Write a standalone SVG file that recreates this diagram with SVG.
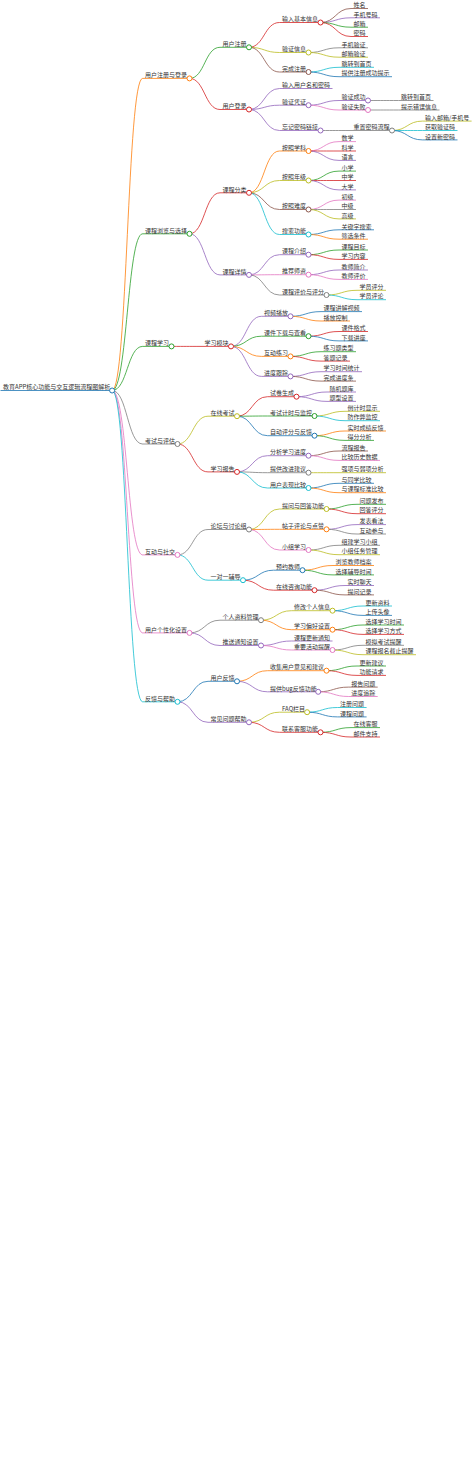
<svg xmlns="http://www.w3.org/2000/svg" width="474" height="1463" viewBox="0 0 474 1463">
<style>
.lk path{fill:none;stroke-width:1;stroke-opacity:.8}
.n path{fill:none;stroke-width:1;stroke-opacity:.8}
.n circle{fill:#fff;stroke-width:1}
.n text{font-family:"Noto Sans CJK SC","Noto Sans",sans-serif;font-size:6px;fill:#333}
.b{stroke:#1f77b4}.o{stroke:#ff7f0e}.g{stroke:#2ca02c}.r{stroke:#d62728}.p{stroke:#9467bd}
.br{stroke:#8c564b}.pk{stroke:#e377c2}.gy{stroke:#7f7f7f}.ol{stroke:#bcbd22}.cy{stroke:#17becf}
</style>
<rect width="474" height="1463" fill="#fff"/>
<g id="connectors" class="lk">
<path class="o" d="M112.1 390.5C127.35 390.5 127.35 78.4 142.6 78.4"/>
<path class="g" d="M112.1 390.5C127.35 390.5 127.35 233.8 142.6 233.8"/>
<path class="g" d="M112.1 390.5C127.35 390.5 127.35 346.4 142.6 346.4"/>
<path class="gy" d="M112.1 390.5C127.35 390.5 127.35 444 142.6 444"/>
<path class="pk" d="M112.1 390.5C127.35 390.5 127.35 554.9 142.6 554.9"/>
<path class="pk" d="M112.1 390.5C127.35 390.5 127.35 632.9 142.6 632.9"/>
<path class="cy" d="M112.1 390.5C127.35 390.5 127.35 701.8 142.6 701.8"/>
<path class="g" d="M189.5 78.4C204.75 78.4 204.75 47.3 220 47.3"/>
<path class="r" d="M189.5 78.4C204.75 78.4 204.75 109.5 220 109.5"/>
<path class="r" d="M189.5 233.8C204.75 233.8 204.75 192.8 220 192.8"/>
<path class="p" d="M189.5 233.8C204.75 233.8 204.75 274.9 220 274.9"/>
<path class="r" d="M171.5 346.4C186.75 346.4 186.75 346.4 202 346.4"/>
<path class="ol" d="M177.5 444C192.75 444 192.75 416.2 208 416.2"/>
<path class="r" d="M177.5 444C192.75 444 192.75 471.9 208 471.9"/>
<path class="gy" d="M177.5 554.9C192.75 554.9 192.75 529.5 208 529.5"/>
<path class="cy" d="M177.5 554.9C192.75 554.9 192.75 580.2 208 580.2"/>
<path class="gy" d="M189.5 632.9C204.75 632.9 204.75 620.2 220 620.2"/>
<path class="p" d="M189.5 632.9C204.75 632.9 204.75 645.5 220 645.5"/>
<path class="b" d="M177.5 701.8C192.75 701.8 192.75 681.3 208 681.3"/>
<path class="p" d="M177.5 701.8C192.75 701.8 192.75 722.3 208 722.3"/>
<path class="r" d="M249 47.3C264.25 47.3 264.25 22.5 279.5 22.5"/>
<path class="ol" d="M249 47.3C264.25 47.3 264.25 52.5 279.5 52.5"/>
<path class="br" d="M249 47.3C264.25 47.3 264.25 72 279.5 72"/>
<path class="p" d="M249 109.5C264.25 109.5 264.25 88.5 279.5 88.5"/>
<path class="p" d="M249 109.5C264.25 109.5 264.25 105.2 279.5 105.2"/>
<path class="p" d="M249 109.5C264.25 109.5 264.25 130.5 279.5 130.5"/>
<path class="o" d="M249 192.8C264.25 192.8 264.25 151 279.5 151"/>
<path class="ol" d="M249 192.8C264.25 192.8 264.25 180.5 279.5 180.5"/>
<path class="br" d="M249 192.8C264.25 192.8 264.25 209.5 279.5 209.5"/>
<path class="cy" d="M249 192.8C264.25 192.8 264.25 234.5 279.5 234.5"/>
<path class="p" d="M249 274.9C264.25 274.9 264.25 254.7 279.5 254.7"/>
<path class="pk" d="M249 274.9C264.25 274.9 264.25 274.7 279.5 274.7"/>
<path class="gy" d="M249 274.9C264.25 274.9 264.25 295 279.5 295"/>
<path class="p" d="M231 346.4C246.25 346.4 246.25 316.3 261.5 316.3"/>
<path class="g" d="M231 346.4C246.25 346.4 246.25 336.2 261.5 336.2"/>
<path class="o" d="M231 346.4C246.25 346.4 246.25 356.4 261.5 356.4"/>
<path class="p" d="M231 346.4C246.25 346.4 246.25 376.4 261.5 376.4"/>
<path class="r" d="M237 416.2C252.25 416.2 252.25 396.7 267.5 396.7"/>
<path class="g" d="M237 416.2C252.25 416.2 252.25 416 267.5 416"/>
<path class="b" d="M237 416.2C252.25 416.2 252.25 435.7 267.5 435.7"/>
<path class="p" d="M237 471.9C252.25 471.9 252.25 455.7 267.5 455.7"/>
<path class="gy" d="M237 471.9C252.25 471.9 252.25 472.7 267.5 472.7"/>
<path class="cy" d="M237 471.9C252.25 471.9 252.25 488 267.5 488"/>
<path class="ol" d="M249 529.5C264.25 529.5 264.25 509 279.5 509"/>
<path class="o" d="M249 529.5C264.25 529.5 264.25 529.3 279.5 529.3"/>
<path class="pk" d="M249 529.5C264.25 529.5 264.25 550 279.5 550"/>
<path class="b" d="M243 580.2C258.25 580.2 258.25 570.2 273.5 570.2"/>
<path class="r" d="M243 580.2C258.25 580.2 258.25 590.2 273.5 590.2"/>
<path class="ol" d="M261 620.2C276.25 620.2 276.25 610.7 291.5 610.7"/>
<path class="o" d="M261 620.2C276.25 620.2 276.25 629.7 291.5 629.7"/>
<path class="p" d="M261 645.5C276.25 645.5 276.25 641 291.5 641"/>
<path class="pk" d="M261 645.5C276.25 645.5 276.25 650 291.5 650"/>
<path class="o" d="M237 681.3C252.25 681.3 252.25 670.7 267.5 670.7"/>
<path class="p" d="M237 681.3C252.25 681.3 252.25 691.8 267.5 691.8"/>
<path class="ol" d="M249 722.3C264.25 722.3 264.25 712.2 279.5 712.2"/>
<path class="r" d="M249 722.3C264.25 722.3 264.25 732.3 279.5 732.3"/>
<path class="br" d="M320.5 22.5C335.75 22.5 335.75 8.5 351 8.5"/>
<path class="p" d="M320.5 22.5C335.75 22.5 335.75 17.8 351 17.8"/>
<path class="g" d="M320.5 22.5C335.75 22.5 335.75 27.2 351 27.2"/>
<path class="r" d="M320.5 22.5C335.75 22.5 335.75 36.5 351 36.5"/>
<path class="gy" d="M308.5 52.5C323.75 52.5 323.75 47.8 339 47.8"/>
<path class="ol" d="M308.5 52.5C323.75 52.5 323.75 57.2 339 57.2"/>
<path class="cy" d="M308.5 72C323.75 72 323.75 67.3 339 67.3"/>
<path class="b" d="M308.5 72C323.75 72 323.75 76.7 339 76.7"/>
<path class="p" d="M308.5 105.2C323.75 105.2 323.75 100.5 339 100.5"/>
<path class="pk" d="M308.5 105.2C323.75 105.2 323.75 110 339 110"/>
<path class="gy" d="M320.5 130.5C335.75 130.5 335.75 130.5 351 130.5"/>
<path class="pk" d="M308.5 151C323.75 151 323.75 141.6 339 141.6"/>
<path class="r" d="M308.5 151C323.75 151 323.75 151 339 151"/>
<path class="p" d="M308.5 151C323.75 151 323.75 160.4 339 160.4"/>
<path class="g" d="M308.5 180.5C323.75 180.5 323.75 171.1 339 171.1"/>
<path class="r" d="M308.5 180.5C323.75 180.5 323.75 180.5 339 180.5"/>
<path class="p" d="M308.5 180.5C323.75 180.5 323.75 189.9 339 189.9"/>
<path class="pk" d="M308.5 209.5C323.75 209.5 323.75 200.1 339 200.1"/>
<path class="gy" d="M308.5 209.5C323.75 209.5 323.75 209.5 339 209.5"/>
<path class="ol" d="M308.5 209.5C323.75 209.5 323.75 218.9 339 218.9"/>
<path class="b" d="M308.5 234.5C323.75 234.5 323.75 229.8 339 229.8"/>
<path class="o" d="M308.5 234.5C323.75 234.5 323.75 239.2 339 239.2"/>
<path class="g" d="M308.5 254.7C323.75 254.7 323.75 250 339 250"/>
<path class="r" d="M308.5 254.7C323.75 254.7 323.75 259.4 339 259.4"/>
<path class="p" d="M308.5 274.7C323.75 274.7 323.75 270 339 270"/>
<path class="pk" d="M308.5 274.7C323.75 274.7 323.75 279.4 339 279.4"/>
<path class="ol" d="M326.5 295C341.75 295 341.75 290.3 357 290.3"/>
<path class="cy" d="M326.5 295C341.75 295 341.75 299.7 357 299.7"/>
<path class="b" d="M290.5 316.3C305.75 316.3 305.75 311.6 321 311.6"/>
<path class="o" d="M290.5 316.3C305.75 316.3 305.75 321 321 321"/>
<path class="r" d="M308.5 336.2C323.75 336.2 323.75 331.5 339 331.5"/>
<path class="b" d="M308.5 336.2C323.75 336.2 323.75 340.9 339 340.9"/>
<path class="g" d="M290.5 356.4C305.75 356.4 305.75 351.7 321 351.7"/>
<path class="r" d="M290.5 356.4C305.75 356.4 305.75 361.1 321 361.1"/>
<path class="p" d="M290.5 376.4C305.75 376.4 305.75 371.7 321 371.7"/>
<path class="br" d="M290.5 376.4C305.75 376.4 305.75 381.1 321 381.1"/>
<path class="p" d="M296.5 396.7C311.75 396.7 311.75 392 327 392"/>
<path class="p" d="M296.5 396.7C311.75 396.7 311.75 401.4 327 401.4"/>
<path class="ol" d="M314.5 416C329.75 416 329.75 411.3 345 411.3"/>
<path class="cy" d="M314.5 416C329.75 416 329.75 420.7 345 420.7"/>
<path class="o" d="M314.5 435.7C329.75 435.7 329.75 431 345 431"/>
<path class="g" d="M314.5 435.7C329.75 435.7 329.75 440.4 345 440.4"/>
<path class="br" d="M308.5 455.7C323.75 455.7 323.75 451 339 451"/>
<path class="pk" d="M308.5 455.7C323.75 455.7 323.75 460.4 339 460.4"/>
<path class="ol" d="M308.5 472.7C323.75 472.7 323.75 472.7 339 472.7"/>
<path class="b" d="M308.5 488C323.75 488 323.75 483.3 339 483.3"/>
<path class="o" d="M308.5 488C323.75 488 323.75 492.7 339 492.7"/>
<path class="g" d="M326.5 509C341.75 509 341.75 504.3 357 504.3"/>
<path class="r" d="M326.5 509C341.75 509 341.75 513.7 357 513.7"/>
<path class="p" d="M326.5 529.3C341.75 529.3 341.75 524.6 357 524.6"/>
<path class="gy" d="M326.5 529.3C341.75 529.3 341.75 534 357 534"/>
<path class="gy" d="M308.5 550C323.75 550 323.75 545.3 339 545.3"/>
<path class="ol" d="M308.5 550C323.75 550 323.75 554.7 339 554.7"/>
<path class="o" d="M302.5 570.2C317.75 570.2 317.75 565.5 333 565.5"/>
<path class="g" d="M302.5 570.2C317.75 570.2 317.75 574.9 333 574.9"/>
<path class="p" d="M314.5 590.2C329.75 590.2 329.75 585.5 345 585.5"/>
<path class="br" d="M314.5 590.2C329.75 590.2 329.75 594.9 345 594.9"/>
<path class="cy" d="M332.5 610.7C347.75 610.7 347.75 606 363 606"/>
<path class="b" d="M332.5 610.7C347.75 610.7 347.75 615.4 363 615.4"/>
<path class="g" d="M332.5 629.7C347.75 629.7 347.75 625 363 625"/>
<path class="r" d="M332.5 629.7C347.75 629.7 347.75 634.4 363 634.4"/>
<path class="gy" d="M332.5 650C347.75 650 347.75 645.3 363 645.3"/>
<path class="ol" d="M332.5 650C347.75 650 347.75 654.7 363 654.7"/>
<path class="g" d="M326.5 670.7C341.75 670.7 341.75 666 357 666"/>
<path class="r" d="M326.5 670.7C341.75 670.7 341.75 675.4 357 675.4"/>
<path class="br" d="M318.2 691.8C333.45 691.8 333.45 687.1 348.7 687.1"/>
<path class="pk" d="M318.2 691.8C333.45 691.8 333.45 696.5 348.7 696.5"/>
<path class="cy" d="M307.1 712.2C322.35 712.2 322.35 707.5 337.6 707.5"/>
<path class="b" d="M307.1 712.2C322.35 712.2 322.35 716.9 337.6 716.9"/>
<path class="g" d="M320.5 732.3C335.75 732.3 335.75 727.6 351 727.6"/>
<path class="r" d="M320.5 732.3C335.75 732.3 335.75 737 351 737"/>
<path class="gy" d="M368 100.5C383.25 100.5 383.25 100.5 398.5 100.5"/>
<path class="gy" d="M368 110C383.25 110 383.25 110 398.5 110"/>
<path class="ol" d="M392 130.5C407.25 130.5 407.25 121.1 422.5 121.1"/>
<path class="cy" d="M392 130.5C407.25 130.5 407.25 130.5 422.5 130.5"/>
<path class="b" d="M392 130.5C407.25 130.5 407.25 139.9 422.5 139.9"/>
</g>
<g id="n0" class="n" transform="translate(3,390.5)"><path class="b" d="M-2.5 0H109.1"/><text y="-1.3">教育APP核心功能与交互逻辑流程图解析</text><circle class="b" cx="109.1" r="2.5"/></g>
<g id="n1" class="n" transform="translate(145,78.4)"><path class="o" d="M-2.5 0H44.5"/><text y="-1.3">用户注册与登录</text><circle class="o" cx="44.5" r="2.5"/></g>
<g id="n2" class="n" transform="translate(145,233.8)"><path class="g" d="M-2.5 0H44.5"/><text y="-1.3">课程浏览与选择</text><circle class="g" cx="44.5" r="2.5"/></g>
<g id="n3" class="n" transform="translate(145,346.4)"><path class="g" d="M-2.5 0H26.5"/><text y="-1.3">课程学习</text><circle class="g" cx="26.5" r="2.5"/></g>
<g id="n4" class="n" transform="translate(145,444)"><path class="gy" d="M-2.5 0H32.5"/><text y="-1.3">考试与评估</text><circle class="gy" cx="32.5" r="2.5"/></g>
<g id="n5" class="n" transform="translate(145,554.9)"><path class="pk" d="M-2.5 0H32.5"/><text y="-1.3">互动与社交</text><circle class="pk" cx="32.5" r="2.5"/></g>
<g id="n6" class="n" transform="translate(145,632.9)"><path class="pk" d="M-2.5 0H44.5"/><text y="-1.3">用户个性化设置</text><circle class="pk" cx="44.5" r="2.5"/></g>
<g id="n7" class="n" transform="translate(145,701.8)"><path class="cy" d="M-2.5 0H32.5"/><text y="-1.3">反馈与帮助</text><circle class="cy" cx="32.5" r="2.5"/></g>
<g id="n8" class="n" transform="translate(222.5,47.3)"><path class="g" d="M-2.5 0H26.5"/><text y="-1.3">用户注册</text><circle class="g" cx="26.5" r="2.5"/></g>
<g id="n9" class="n" transform="translate(222.5,109.5)"><path class="r" d="M-2.5 0H26.5"/><text y="-1.3">用户登录</text><circle class="r" cx="26.5" r="2.5"/></g>
<g id="n10" class="n" transform="translate(222.5,192.8)"><path class="r" d="M-2.5 0H26.5"/><text y="-1.3">课程分类</text><circle class="r" cx="26.5" r="2.5"/></g>
<g id="n11" class="n" transform="translate(222.5,274.9)"><path class="p" d="M-2.5 0H26.5"/><text y="-1.3">课程详情</text><circle class="p" cx="26.5" r="2.5"/></g>
<g id="n12" class="n" transform="translate(204.5,346.4)"><path class="r" d="M-2.5 0H26.5"/><text y="-1.3">学习模块</text><circle class="r" cx="26.5" r="2.5"/></g>
<g id="n13" class="n" transform="translate(210.5,416.2)"><path class="ol" d="M-2.5 0H26.5"/><text y="-1.3">在线考试</text><circle class="ol" cx="26.5" r="2.5"/></g>
<g id="n14" class="n" transform="translate(210.5,471.9)"><path class="r" d="M-2.5 0H26.5"/><text y="-1.3">学习报告</text><circle class="r" cx="26.5" r="2.5"/></g>
<g id="n15" class="n" transform="translate(210.5,529.5)"><path class="gy" d="M-2.5 0H38.5"/><text y="-1.3">论坛与讨论组</text><circle class="gy" cx="38.5" r="2.5"/></g>
<g id="n16" class="n" transform="translate(210.5,580.2)"><path class="cy" d="M-2.5 0H32.5"/><text y="-1.3">一对一辅导</text><circle class="cy" cx="32.5" r="2.5"/></g>
<g id="n17" class="n" transform="translate(222.5,620.2)"><path class="gy" d="M-2.5 0H38.5"/><text y="-1.3">个人资料管理</text><circle class="gy" cx="38.5" r="2.5"/></g>
<g id="n18" class="n" transform="translate(222.5,645.5)"><path class="p" d="M-2.5 0H38.5"/><text y="-1.3">推送通知设置</text><circle class="p" cx="38.5" r="2.5"/></g>
<g id="n19" class="n" transform="translate(210.5,681.3)"><path class="b" d="M-2.5 0H26.5"/><text y="-1.3">用户反馈</text><circle class="b" cx="26.5" r="2.5"/></g>
<g id="n20" class="n" transform="translate(210.5,722.3)"><path class="p" d="M-2.5 0H38.5"/><text y="-1.3">常见问题帮助</text><circle class="p" cx="38.5" r="2.5"/></g>
<g id="n21" class="n" transform="translate(282,22.5)"><path class="r" d="M-2.5 0H38.5"/><text y="-1.3">输入基本信息</text><circle class="r" cx="38.5" r="2.5"/></g>
<g id="n22" class="n" transform="translate(282,52.5)"><path class="ol" d="M-2.5 0H26.5"/><text y="-1.3">验证信息</text><circle class="ol" cx="26.5" r="2.5"/></g>
<g id="n23" class="n" transform="translate(282,72)"><path class="br" d="M-2.5 0H26.5"/><text y="-1.3">完成注册</text><circle class="br" cx="26.5" r="2.5"/></g>
<g id="n24" class="n" transform="translate(282,88.5)"><path class="p" d="M-2.5 0H50.5"/><text y="-1.3">输入用户名和密码</text></g>
<g id="n25" class="n" transform="translate(282,105.2)"><path class="p" d="M-2.5 0H26.5"/><text y="-1.3">验证凭证</text><circle class="p" cx="26.5" r="2.5"/></g>
<g id="n26" class="n" transform="translate(282,130.5)"><path class="p" d="M-2.5 0H38.5"/><text y="-1.3">忘记密码链接</text><circle class="p" cx="38.5" r="2.5"/></g>
<g id="n27" class="n" transform="translate(282,151)"><path class="o" d="M-2.5 0H26.5"/><text y="-1.3">按照学科</text><circle class="o" cx="26.5" r="2.5"/></g>
<g id="n28" class="n" transform="translate(282,180.5)"><path class="ol" d="M-2.5 0H26.5"/><text y="-1.3">按照年级</text><circle class="ol" cx="26.5" r="2.5"/></g>
<g id="n29" class="n" transform="translate(282,209.5)"><path class="br" d="M-2.5 0H26.5"/><text y="-1.3">按照难度</text><circle class="br" cx="26.5" r="2.5"/></g>
<g id="n30" class="n" transform="translate(282,234.5)"><path class="cy" d="M-2.5 0H26.5"/><text y="-1.3">搜索功能</text><circle class="cy" cx="26.5" r="2.5"/></g>
<g id="n31" class="n" transform="translate(282,254.7)"><path class="p" d="M-2.5 0H26.5"/><text y="-1.3">课程介绍</text><circle class="p" cx="26.5" r="2.5"/></g>
<g id="n32" class="n" transform="translate(282,274.7)"><path class="pk" d="M-2.5 0H26.5"/><text y="-1.3">推荐师资</text><circle class="pk" cx="26.5" r="2.5"/></g>
<g id="n33" class="n" transform="translate(282,295)"><path class="gy" d="M-2.5 0H44.5"/><text y="-1.3">课程评价与评分</text><circle class="gy" cx="44.5" r="2.5"/></g>
<g id="n34" class="n" transform="translate(264,316.3)"><path class="p" d="M-2.5 0H26.5"/><text y="-1.3">视频播放</text><circle class="p" cx="26.5" r="2.5"/></g>
<g id="n35" class="n" transform="translate(264,336.2)"><path class="g" d="M-2.5 0H44.5"/><text y="-1.3">课件下载与查看</text><circle class="g" cx="44.5" r="2.5"/></g>
<g id="n36" class="n" transform="translate(264,356.4)"><path class="o" d="M-2.5 0H26.5"/><text y="-1.3">互动练习</text><circle class="o" cx="26.5" r="2.5"/></g>
<g id="n37" class="n" transform="translate(264,376.4)"><path class="p" d="M-2.5 0H26.5"/><text y="-1.3">进度跟踪</text><circle class="p" cx="26.5" r="2.5"/></g>
<g id="n38" class="n" transform="translate(270,396.7)"><path class="r" d="M-2.5 0H26.5"/><text y="-1.3">试卷生成</text><circle class="r" cx="26.5" r="2.5"/></g>
<g id="n39" class="n" transform="translate(270,416)"><path class="g" d="M-2.5 0H44.5"/><text y="-1.3">考试计时与监控</text><circle class="g" cx="44.5" r="2.5"/></g>
<g id="n40" class="n" transform="translate(270,435.7)"><path class="b" d="M-2.5 0H44.5"/><text y="-1.3">自动评分与反馈</text><circle class="b" cx="44.5" r="2.5"/></g>
<g id="n41" class="n" transform="translate(270,455.7)"><path class="p" d="M-2.5 0H38.5"/><text y="-1.3">分析学习进度</text><circle class="p" cx="38.5" r="2.5"/></g>
<g id="n42" class="n" transform="translate(270,472.7)"><path class="gy" d="M-2.5 0H38.5"/><text y="-1.3">提供改进建议</text><circle class="gy" cx="38.5" r="2.5"/></g>
<g id="n43" class="n" transform="translate(270,488)"><path class="cy" d="M-2.5 0H38.5"/><text y="-1.3">用户表现比较</text><circle class="cy" cx="38.5" r="2.5"/></g>
<g id="n44" class="n" transform="translate(282,509)"><path class="ol" d="M-2.5 0H44.5"/><text y="-1.3">提问与回答功能</text><circle class="ol" cx="44.5" r="2.5"/></g>
<g id="n45" class="n" transform="translate(282,529.3)"><path class="o" d="M-2.5 0H44.5"/><text y="-1.3">帖子评论与点赞</text><circle class="o" cx="44.5" r="2.5"/></g>
<g id="n46" class="n" transform="translate(282,550)"><path class="pk" d="M-2.5 0H26.5"/><text y="-1.3">小组学习</text><circle class="pk" cx="26.5" r="2.5"/></g>
<g id="n47" class="n" transform="translate(276,570.2)"><path class="b" d="M-2.5 0H26.5"/><text y="-1.3">预约教师</text><circle class="b" cx="26.5" r="2.5"/></g>
<g id="n48" class="n" transform="translate(276,590.2)"><path class="r" d="M-2.5 0H38.5"/><text y="-1.3">在线咨询功能</text><circle class="r" cx="38.5" r="2.5"/></g>
<g id="n49" class="n" transform="translate(294,610.7)"><path class="ol" d="M-2.5 0H38.5"/><text y="-1.3">修改个人信息</text><circle class="ol" cx="38.5" r="2.5"/></g>
<g id="n50" class="n" transform="translate(294,629.7)"><path class="o" d="M-2.5 0H38.5"/><text y="-1.3">学习偏好设置</text><circle class="o" cx="38.5" r="2.5"/></g>
<g id="n51" class="n" transform="translate(294,641)"><path class="p" d="M-2.5 0H38.5"/><text y="-1.3">课程更新通知</text></g>
<g id="n52" class="n" transform="translate(294,650)"><path class="pk" d="M-2.5 0H38.5"/><text y="-1.3">重要活动提醒</text><circle class="pk" cx="38.5" r="2.5"/></g>
<g id="n53" class="n" transform="translate(270,670.7)"><path class="o" d="M-2.5 0H56.5"/><text y="-1.3">收集用户意见和建议</text><circle class="o" cx="56.5" r="2.5"/></g>
<g id="n54" class="n" transform="translate(270,691.8)"><path class="p" d="M-2.5 0H48.2"/><text y="-1.3">提供bug反馈功能</text><circle class="p" cx="48.2" r="2.5"/></g>
<g id="n55" class="n" transform="translate(282,712.2)"><path class="ol" d="M-2.5 0H25.1"/><text y="-1.3">FAQ栏目</text><circle class="ol" cx="25.1" r="2.5"/></g>
<g id="n56" class="n" transform="translate(282,732.3)"><path class="r" d="M-2.5 0H38.5"/><text y="-1.3">联系客服功能</text><circle class="r" cx="38.5" r="2.5"/></g>
<g id="n57" class="n" transform="translate(353.5,8.5)"><path class="br" d="M-2.5 0H14.5"/><text y="-1.3">姓名</text></g>
<g id="n58" class="n" transform="translate(353.5,17.8)"><path class="p" d="M-2.5 0H26.5"/><text y="-1.3">手机号码</text></g>
<g id="n59" class="n" transform="translate(353.5,27.2)"><path class="g" d="M-2.5 0H14.5"/><text y="-1.3">邮箱</text></g>
<g id="n60" class="n" transform="translate(353.5,36.5)"><path class="r" d="M-2.5 0H14.5"/><text y="-1.3">密码</text></g>
<g id="n61" class="n" transform="translate(341.5,47.8)"><path class="gy" d="M-2.5 0H26.5"/><text y="-1.3">手机验证</text></g>
<g id="n62" class="n" transform="translate(341.5,57.2)"><path class="ol" d="M-2.5 0H26.5"/><text y="-1.3">邮箱验证</text></g>
<g id="n63" class="n" transform="translate(341.5,67.3)"><path class="cy" d="M-2.5 0H32.5"/><text y="-1.3">跳转到首页</text></g>
<g id="n64" class="n" transform="translate(341.5,76.7)"><path class="b" d="M-2.5 0H50.5"/><text y="-1.3">提供注册成功提示</text></g>
<g id="n65" class="n" transform="translate(341.5,100.5)"><path class="p" d="M-2.5 0H26.5"/><text y="-1.3">验证成功</text><circle class="p" cx="26.5" r="2.5"/></g>
<g id="n66" class="n" transform="translate(341.5,110)"><path class="pk" d="M-2.5 0H26.5"/><text y="-1.3">验证失败</text><circle class="pk" cx="26.5" r="2.5"/></g>
<g id="n67" class="n" transform="translate(353.5,130.5)"><path class="gy" d="M-2.5 0H38.5"/><text y="-1.3">重置密码流程</text><circle class="gy" cx="38.5" r="2.5"/></g>
<g id="n68" class="n" transform="translate(341.5,141.6)"><path class="pk" d="M-2.5 0H14.5"/><text y="-1.3">数学</text></g>
<g id="n69" class="n" transform="translate(341.5,151)"><path class="r" d="M-2.5 0H14.5"/><text y="-1.3">科学</text></g>
<g id="n70" class="n" transform="translate(341.5,160.4)"><path class="p" d="M-2.5 0H14.5"/><text y="-1.3">语言</text></g>
<g id="n71" class="n" transform="translate(341.5,171.1)"><path class="g" d="M-2.5 0H14.5"/><text y="-1.3">小学</text></g>
<g id="n72" class="n" transform="translate(341.5,180.5)"><path class="r" d="M-2.5 0H14.5"/><text y="-1.3">中学</text></g>
<g id="n73" class="n" transform="translate(341.5,189.9)"><path class="p" d="M-2.5 0H14.5"/><text y="-1.3">大学</text></g>
<g id="n74" class="n" transform="translate(341.5,200.1)"><path class="pk" d="M-2.5 0H14.5"/><text y="-1.3">初级</text></g>
<g id="n75" class="n" transform="translate(341.5,209.5)"><path class="gy" d="M-2.5 0H14.5"/><text y="-1.3">中级</text></g>
<g id="n76" class="n" transform="translate(341.5,218.9)"><path class="ol" d="M-2.5 0H14.5"/><text y="-1.3">高级</text></g>
<g id="n77" class="n" transform="translate(341.5,229.8)"><path class="b" d="M-2.5 0H32.5"/><text y="-1.3">关键字搜索</text></g>
<g id="n78" class="n" transform="translate(341.5,239.2)"><path class="o" d="M-2.5 0H26.5"/><text y="-1.3">筛选条件</text></g>
<g id="n79" class="n" transform="translate(341.5,250)"><path class="g" d="M-2.5 0H26.5"/><text y="-1.3">课程目标</text></g>
<g id="n80" class="n" transform="translate(341.5,259.4)"><path class="r" d="M-2.5 0H26.5"/><text y="-1.3">学习内容</text></g>
<g id="n81" class="n" transform="translate(341.5,270)"><path class="p" d="M-2.5 0H26.5"/><text y="-1.3">教师简介</text></g>
<g id="n82" class="n" transform="translate(341.5,279.4)"><path class="pk" d="M-2.5 0H26.5"/><text y="-1.3">教师评价</text></g>
<g id="n83" class="n" transform="translate(359.5,290.3)"><path class="ol" d="M-2.5 0H26.5"/><text y="-1.3">学员评分</text></g>
<g id="n84" class="n" transform="translate(359.5,299.7)"><path class="cy" d="M-2.5 0H26.5"/><text y="-1.3">学员评论</text></g>
<g id="n85" class="n" transform="translate(323.5,311.6)"><path class="b" d="M-2.5 0H38.5"/><text y="-1.3">课程讲解视频</text></g>
<g id="n86" class="n" transform="translate(323.5,321)"><path class="o" d="M-2.5 0H26.5"/><text y="-1.3">播放控制</text></g>
<g id="n87" class="n" transform="translate(341.5,331.5)"><path class="r" d="M-2.5 0H26.5"/><text y="-1.3">课件格式</text></g>
<g id="n88" class="n" transform="translate(341.5,340.9)"><path class="b" d="M-2.5 0H26.5"/><text y="-1.3">下载讲座</text></g>
<g id="n89" class="n" transform="translate(323.5,351.7)"><path class="g" d="M-2.5 0H32.5"/><text y="-1.3">练习题类型</text></g>
<g id="n90" class="n" transform="translate(323.5,361.1)"><path class="r" d="M-2.5 0H26.5"/><text y="-1.3">答题记录</text></g>
<g id="n91" class="n" transform="translate(323.5,371.7)"><path class="p" d="M-2.5 0H38.5"/><text y="-1.3">学习时间统计</text></g>
<g id="n92" class="n" transform="translate(323.5,381.1)"><path class="br" d="M-2.5 0H32.5"/><text y="-1.3">完成进度条</text></g>
<g id="n93" class="n" transform="translate(329.5,392)"><path class="p" d="M-2.5 0H26.5"/><text y="-1.3">随机题库</text></g>
<g id="n94" class="n" transform="translate(329.5,401.4)"><path class="p" d="M-2.5 0H26.5"/><text y="-1.3">题型设置</text></g>
<g id="n95" class="n" transform="translate(347.5,411.3)"><path class="ol" d="M-2.5 0H32.5"/><text y="-1.3">倒计时显示</text></g>
<g id="n96" class="n" transform="translate(347.5,420.7)"><path class="cy" d="M-2.5 0H32.5"/><text y="-1.3">防作弊监控</text></g>
<g id="n97" class="n" transform="translate(347.5,431)"><path class="o" d="M-2.5 0H38.5"/><text y="-1.3">实时成绩反馈</text></g>
<g id="n98" class="n" transform="translate(347.5,440.4)"><path class="g" d="M-2.5 0H26.5"/><text y="-1.3">得分分析</text></g>
<g id="n99" class="n" transform="translate(341.5,451)"><path class="br" d="M-2.5 0H26.5"/><text y="-1.3">流程报告</text></g>
<g id="n100" class="n" transform="translate(341.5,460.4)"><path class="pk" d="M-2.5 0H38.5"/><text y="-1.3">比较历史数据</text></g>
<g id="n101" class="n" transform="translate(341.5,472.7)"><path class="ol" d="M-2.5 0H44.5"/><text y="-1.3">强项与弱项分析</text></g>
<g id="n102" class="n" transform="translate(341.5,483.3)"><path class="b" d="M-2.5 0H32.5"/><text y="-1.3">与同学比较</text></g>
<g id="n103" class="n" transform="translate(341.5,492.7)"><path class="o" d="M-2.5 0H44.5"/><text y="-1.3">与课程标准比较</text></g>
<g id="n104" class="n" transform="translate(359.5,504.3)"><path class="g" d="M-2.5 0H26.5"/><text y="-1.3">问题发布</text></g>
<g id="n105" class="n" transform="translate(359.5,513.7)"><path class="r" d="M-2.5 0H26.5"/><text y="-1.3">回答评分</text></g>
<g id="n106" class="n" transform="translate(359.5,524.6)"><path class="p" d="M-2.5 0H26.5"/><text y="-1.3">发表看法</text></g>
<g id="n107" class="n" transform="translate(359.5,534)"><path class="gy" d="M-2.5 0H26.5"/><text y="-1.3">互动参与</text></g>
<g id="n108" class="n" transform="translate(341.5,545.3)"><path class="gy" d="M-2.5 0H38.5"/><text y="-1.3">组建学习小组</text></g>
<g id="n109" class="n" transform="translate(341.5,554.7)"><path class="ol" d="M-2.5 0H38.5"/><text y="-1.3">小组任务管理</text></g>
<g id="n110" class="n" transform="translate(335.5,565.5)"><path class="o" d="M-2.5 0H38.5"/><text y="-1.3">浏览教师档案</text></g>
<g id="n111" class="n" transform="translate(335.5,574.9)"><path class="g" d="M-2.5 0H38.5"/><text y="-1.3">选择辅导时间</text></g>
<g id="n112" class="n" transform="translate(347.5,585.5)"><path class="p" d="M-2.5 0H26.5"/><text y="-1.3">实时聊天</text></g>
<g id="n113" class="n" transform="translate(347.5,594.9)"><path class="br" d="M-2.5 0H26.5"/><text y="-1.3">提问记录</text></g>
<g id="n114" class="n" transform="translate(365.5,606)"><path class="cy" d="M-2.5 0H26.5"/><text y="-1.3">更新资料</text></g>
<g id="n115" class="n" transform="translate(365.5,615.4)"><path class="b" d="M-2.5 0H26.5"/><text y="-1.3">上传头像</text></g>
<g id="n116" class="n" transform="translate(365.5,625)"><path class="g" d="M-2.5 0H38.5"/><text y="-1.3">选择学习时间</text></g>
<g id="n117" class="n" transform="translate(365.5,634.4)"><path class="r" d="M-2.5 0H38.5"/><text y="-1.3">选择学习方式</text></g>
<g id="n118" class="n" transform="translate(365.5,645.3)"><path class="gy" d="M-2.5 0H38.5"/><text y="-1.3">模拟考试提醒</text></g>
<g id="n119" class="n" transform="translate(365.5,654.7)"><path class="ol" d="M-2.5 0H50.5"/><text y="-1.3">课程报名截止提醒</text></g>
<g id="n120" class="n" transform="translate(359.5,666)"><path class="g" d="M-2.5 0H26.5"/><text y="-1.3">更新建议</text></g>
<g id="n121" class="n" transform="translate(359.5,675.4)"><path class="r" d="M-2.5 0H26.5"/><text y="-1.3">功能请求</text></g>
<g id="n122" class="n" transform="translate(351.2,687.1)"><path class="br" d="M-2.5 0H26.5"/><text y="-1.3">报告问题</text></g>
<g id="n123" class="n" transform="translate(351.2,696.5)"><path class="pk" d="M-2.5 0H26.5"/><text y="-1.3">进度追踪</text></g>
<g id="n124" class="n" transform="translate(340.1,707.5)"><path class="cy" d="M-2.5 0H26.5"/><text y="-1.3">注册问题</text></g>
<g id="n125" class="n" transform="translate(340.1,716.9)"><path class="b" d="M-2.5 0H26.5"/><text y="-1.3">课程问题</text></g>
<g id="n126" class="n" transform="translate(353.5,727.6)"><path class="g" d="M-2.5 0H26.5"/><text y="-1.3">在线客服</text></g>
<g id="n127" class="n" transform="translate(353.5,737)"><path class="r" d="M-2.5 0H26.5"/><text y="-1.3">邮件支持</text></g>
<g id="n128" class="n" transform="translate(401,100.5)"><path class="gy" d="M-2.5 0H32.5"/><text y="-1.3">跳转到首页</text></g>
<g id="n129" class="n" transform="translate(401,110)"><path class="gy" d="M-2.5 0H38.5"/><text y="-1.3">提示错误信息</text></g>
<g id="n130" class="n" transform="translate(425,121.1)"><path class="ol" d="M-2.5 0H46.6"/><text y="-1.3">输入邮箱/手机号</text></g>
<g id="n131" class="n" transform="translate(425,130.5)"><path class="cy" d="M-2.5 0H32.5"/><text y="-1.3">获取验证码</text></g>
<g id="n132" class="n" transform="translate(425,139.9)"><path class="b" d="M-2.5 0H32.5"/><text y="-1.3">设置新密码</text></g>
</svg>
